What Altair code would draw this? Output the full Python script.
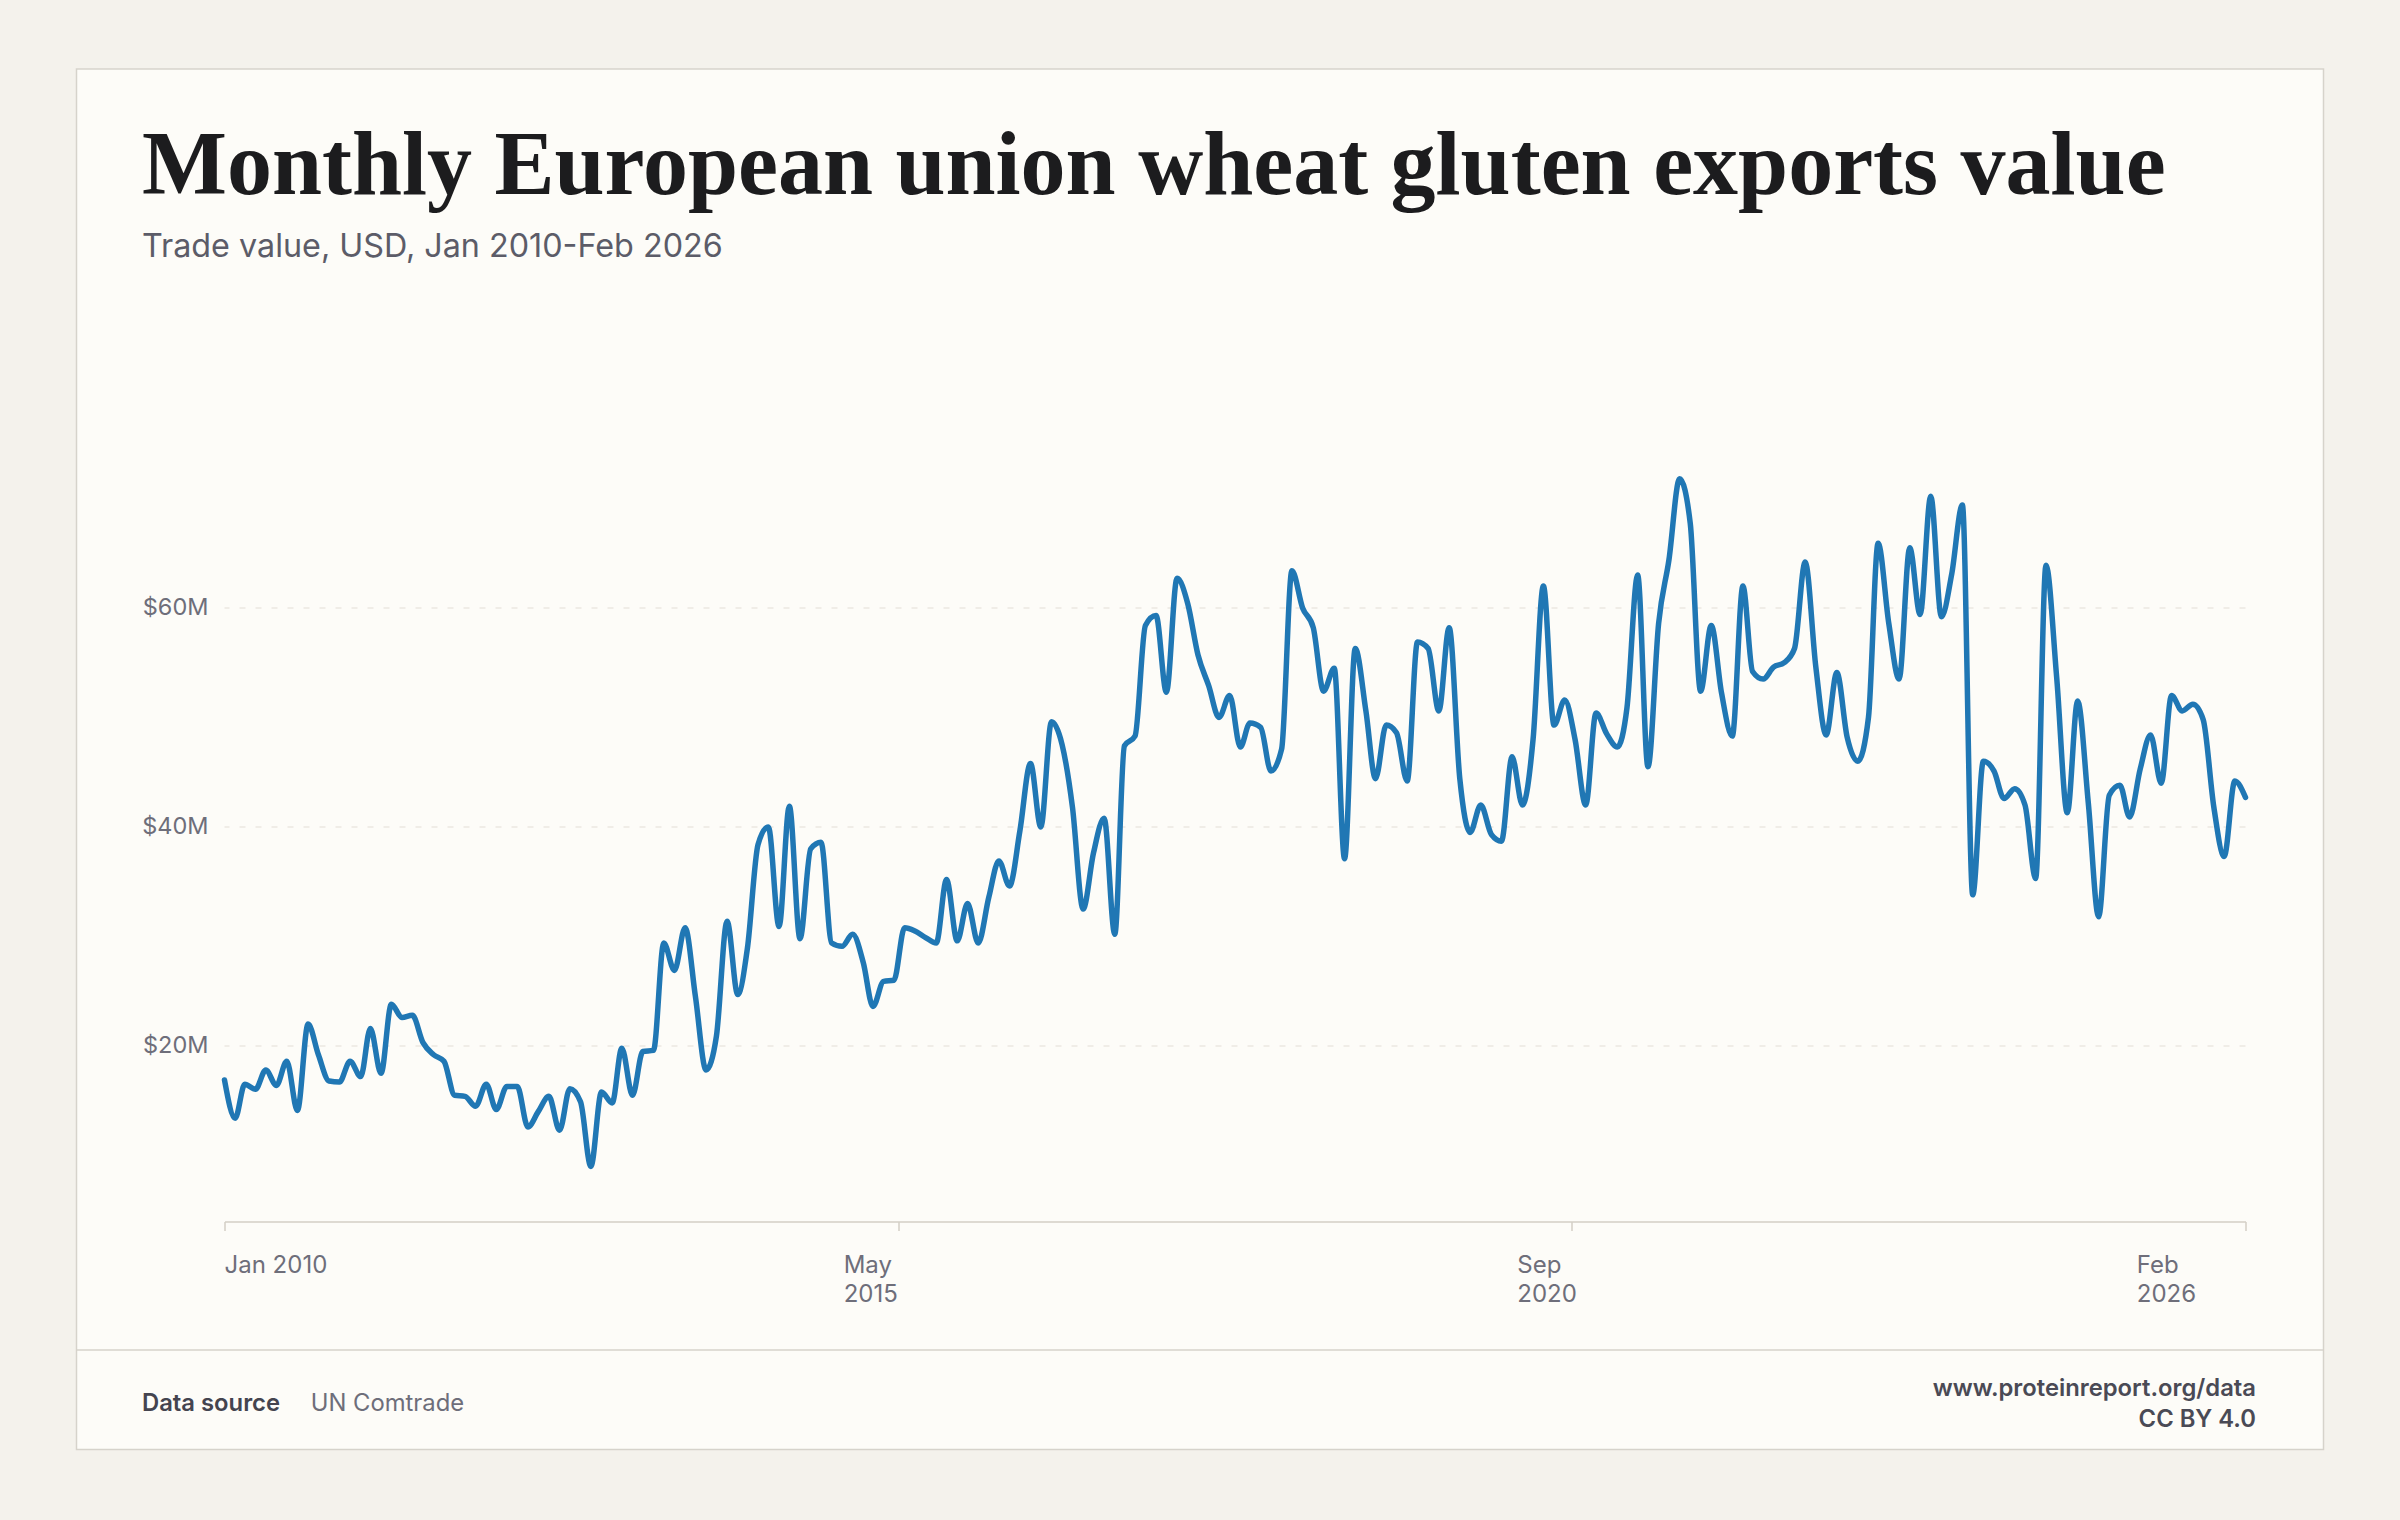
import altair as alt
import pandas as pd

# ---------------- data (USD millions, monthly from Jan 2010) ----------------
values_2010 = [16.9, 13.4, 16.5, 16.05, 17.8, 16.4, 18.6, 14.1, 22.0, 19.2, 16.8, 16.7]
values_2011 = [18.6, 17.2, 21.6, 17.5, 23.8, 22.6, 22.8, 20.3, 19.2, 18.6, 15.5, 15.4]
values_2012 = [14.5, 16.5, 14.2, 16.3, 16.3, 12.6, 14.0, 15.4, 12.3, 16.1, 14.9, 9.0]
values_2013 = [15.8, 14.8, 19.8, 15.5, 19.5, 19.6, 29.4, 26.9, 30.8, 24.5, 17.8, 20.9]
values_2014 = [31.4, 24.7, 28.9, 38.4, 40.0, 30.9, 41.9, 29.8, 38.0, 38.6, 29.4, 29.1]
values_2015 = [30.2, 27.6, 23.6, 25.9, 26.0, 30.8, 30.5, 29.9, 29.4, 35.2, 29.6, 33.0]
values_2016 = [29.4, 33.6, 36.9, 34.6, 39.6, 45.8, 40.0, 49.6, 47.5, 41.8, 32.5, 37.6]
values_2017 = [40.8, 30.2, 47.4, 48.3, 58.4, 59.3, 52.3, 62.7, 60.4, 55.7, 52.9, 50.0]
values_2018 = [52.0, 47.3, 49.5, 49.1, 45.1, 47.1, 63.4, 60.0, 58.2, 52.4, 54.5, 37.1]
values_2019 = [56.3, 50.6, 44.4, 49.3, 48.6, 44.2, 56.9, 56.3, 50.6, 58.2, 44.4, 39.5]
values_2020 = [42.0, 39.3, 38.7, 46.4, 42.0, 48.0, 62.0, 49.3, 51.6, 48.0, 42.0, 50.4]
values_2021 = [48.5, 47.3, 50.9, 63.0, 45.5, 58.6, 64.4, 71.8, 67.7, 52.4, 58.4, 52.2]
values_2022 = [48.3, 62.0, 54.2, 53.5, 54.6, 55.0, 56.3, 64.2, 54.6, 48.4, 54.1, 48.2]
values_2023 = [46.0, 50.0, 65.9, 58.6, 53.5, 65.5, 59.4, 70.2, 59.2, 63.1, 69.4, 33.8]
values_2024 = [46.0, 45.1, 42.6, 43.5, 42.0, 35.3, 63.9, 53.7, 41.3, 51.5, 42.2, 31.8]
values_2025 = [42.9, 43.8, 40.9, 45.3, 48.4, 44.0, 52.0, 50.6, 51.2, 49.8, 41.8, 37.3]
values_2026 = [44.2, 42.7]

values = (values_2010 + values_2011 + values_2012 + values_2013 + values_2014
          + values_2015 + values_2016 + values_2017 + values_2018 + values_2019
          + values_2020 + values_2021 + values_2022 + values_2023 + values_2024
          + values_2025 + values_2026)
months = pd.date_range("2010-01-01", periods=len(values), freq="MS").strftime("%Y-%m-%d").tolist()
df = pd.DataFrame({"month": months, "value": values})

y_ticks = [20, 40, 60]
x_tick_labels = ["Jan 2010", "May\n2015", "Sep\n2020", "Feb\n2026"]
x_tick_pos = ["first", "mid", "mid", "last"]

TITLE = "Monthly European union wheat gluten exports value"
SUBTITLE = "Trade value, USD, Jan 2010-Feb 2026"
SOURCE_LABEL = "Data source"
SOURCE = "UN Comtrade"
URL = "www.proteinreport.org/data"
LICENSE = "CC BY 4.0"

# ---------------- layout ----------------
PAD_L, PAD_T, PAD_R, PAD_B = 224.5, 422, 154.5, 298.5
W = 2400 - PAD_L - PAD_R
H = 1520 - PAD_T - PAD_B

t0 = pd.Timestamp("2010-01-01", tz="UTC")
t1 = pd.Timestamp("2026-02-01", tz="UTC")
ms0 = int(t0.timestamp() * 1000)
ms1 = int(t1.timestamp() * 1000)
tick_ms = [ms0 + k * (ms1 - ms0) / 3 for k in range(4)]
lab_df = pd.DataFrame({"tick": tick_ms, "label": x_tick_labels, "pos": x_tick_pos})

PAGE = "#f4f2ec"
CARD = "#fdfcf8"
BORDER = "#d6d3cb"
INK = "#1c1c1e"
MUTED = "#5c5c68"
LABEL = "#6e6e7a"
SANS = "Inter"
SERIF = "Liberation Serif"

x_scale = alt.Scale(type="utc", domain=[ms0, ms1])
y_scale = alt.Scale(domain=[3.97, 76.98], nice=False, zero=False)

x_axis = alt.Axis(
    values=tick_ms, labels=False, grid=False, title=None,
    domainColor="#d3cfc6", domainWidth=1.5, tickColor="#d3cfc6", tickWidth=1.5,
    tickSize=9, zindex=2)
y_axis = alt.Axis(
    values=y_ticks, labelExpr="'$' + datum.value + 'M'", domain=False, ticks=False,
    grid=False, title=None, labelFont=SANS, labelFontSize=23.5, labelColor=LABEL,
    labelPadding=16.5, zindex=2)

one = alt.Data(values=[{"a": 1}])

card = alt.Chart(one).mark_rect(fill=CARD, stroke=BORDER, strokeWidth=1.5).encode(
    x=alt.value(-148), x2=alt.value(2099), y=alt.value(-353), y2=alt.value(1027.5)
)
footer_rule = alt.Chart(one).mark_rule(color=BORDER, strokeWidth=1.5).encode(
    x=alt.value(-148), x2=alt.value(2099), y=alt.value(928)
)

grid = alt.Chart(pd.DataFrame({"value": y_ticks})).mark_rule(
    color="#ebe8e1", strokeWidth=1.5, strokeDash=[6, 10]
).encode(y=alt.Y("value:Q", scale=y_scale, axis=y_axis))

line = alt.Chart(df).mark_line(
    color="#2077b4", strokeWidth=5.5, interpolate="monotone", strokeCap="round", strokeJoin="round"
).encode(
    x=alt.X("month:T", scale=x_scale, axis=x_axis),
    y=alt.Y("value:Q", scale=y_scale, axis=y_axis),
)

def xlabels(pos, dx):
    return alt.Chart(lab_df).transform_filter(alt.datum.pos == pos).mark_text(
        align="left", baseline="alphabetic", font=SANS, fontSize=24, color=LABEL,
        lineBreak="\n", lineHeight=29, dx=dx
    ).encode(
        x=alt.X("tick:T", scale=x_scale, axis=x_axis),
        y=alt.value(H + 51.5),
        text="label:N",
    )

def txt(text, x, y, size, color, font=SANS, weight="normal", align="left"):
    return alt.Chart(one).mark_text(
        text=text, align=align, baseline="alphabetic", font=font, fontSize=size,
        fontWeight=weight, color=color
    ).encode(x=alt.value(x), y=alt.value(y))

layers = [
    card, footer_rule, grid, line,
    xlabels("first", 0), xlabels("mid", -54.5), xlabels("last", -108.7),
    txt(TITLE, -82.5, -228, 90, INK, font=SERIF, weight="bold"),
    txt(SUBTITLE, -82.5, -165, 32.3, MUTED),
    txt(SOURCE_LABEL, -82.5, 989, 23.8, "#44444f", weight=600),
    txt(SOURCE, 86.2, 989, 23.8, LABEL),
    txt(URL, 2031.5, 974, 23.8, "#4a4a55", weight=600, align="right"),
    txt(LICENSE, 2031.5, 1004.5, 23.8, "#4a4a55", weight=600, align="right"),
]

chart = alt.layer(*layers).properties(
    width=W, height=H,
    autosize=alt.AutoSizeParams(type="none"),
    padding={"left": PAD_L, "top": PAD_T, "right": PAD_R, "bottom": PAD_B},
    background=PAGE,
).configure_view(stroke=None)

chart.save("out.html", embed_options={"renderer": "svg", "actions": False})
